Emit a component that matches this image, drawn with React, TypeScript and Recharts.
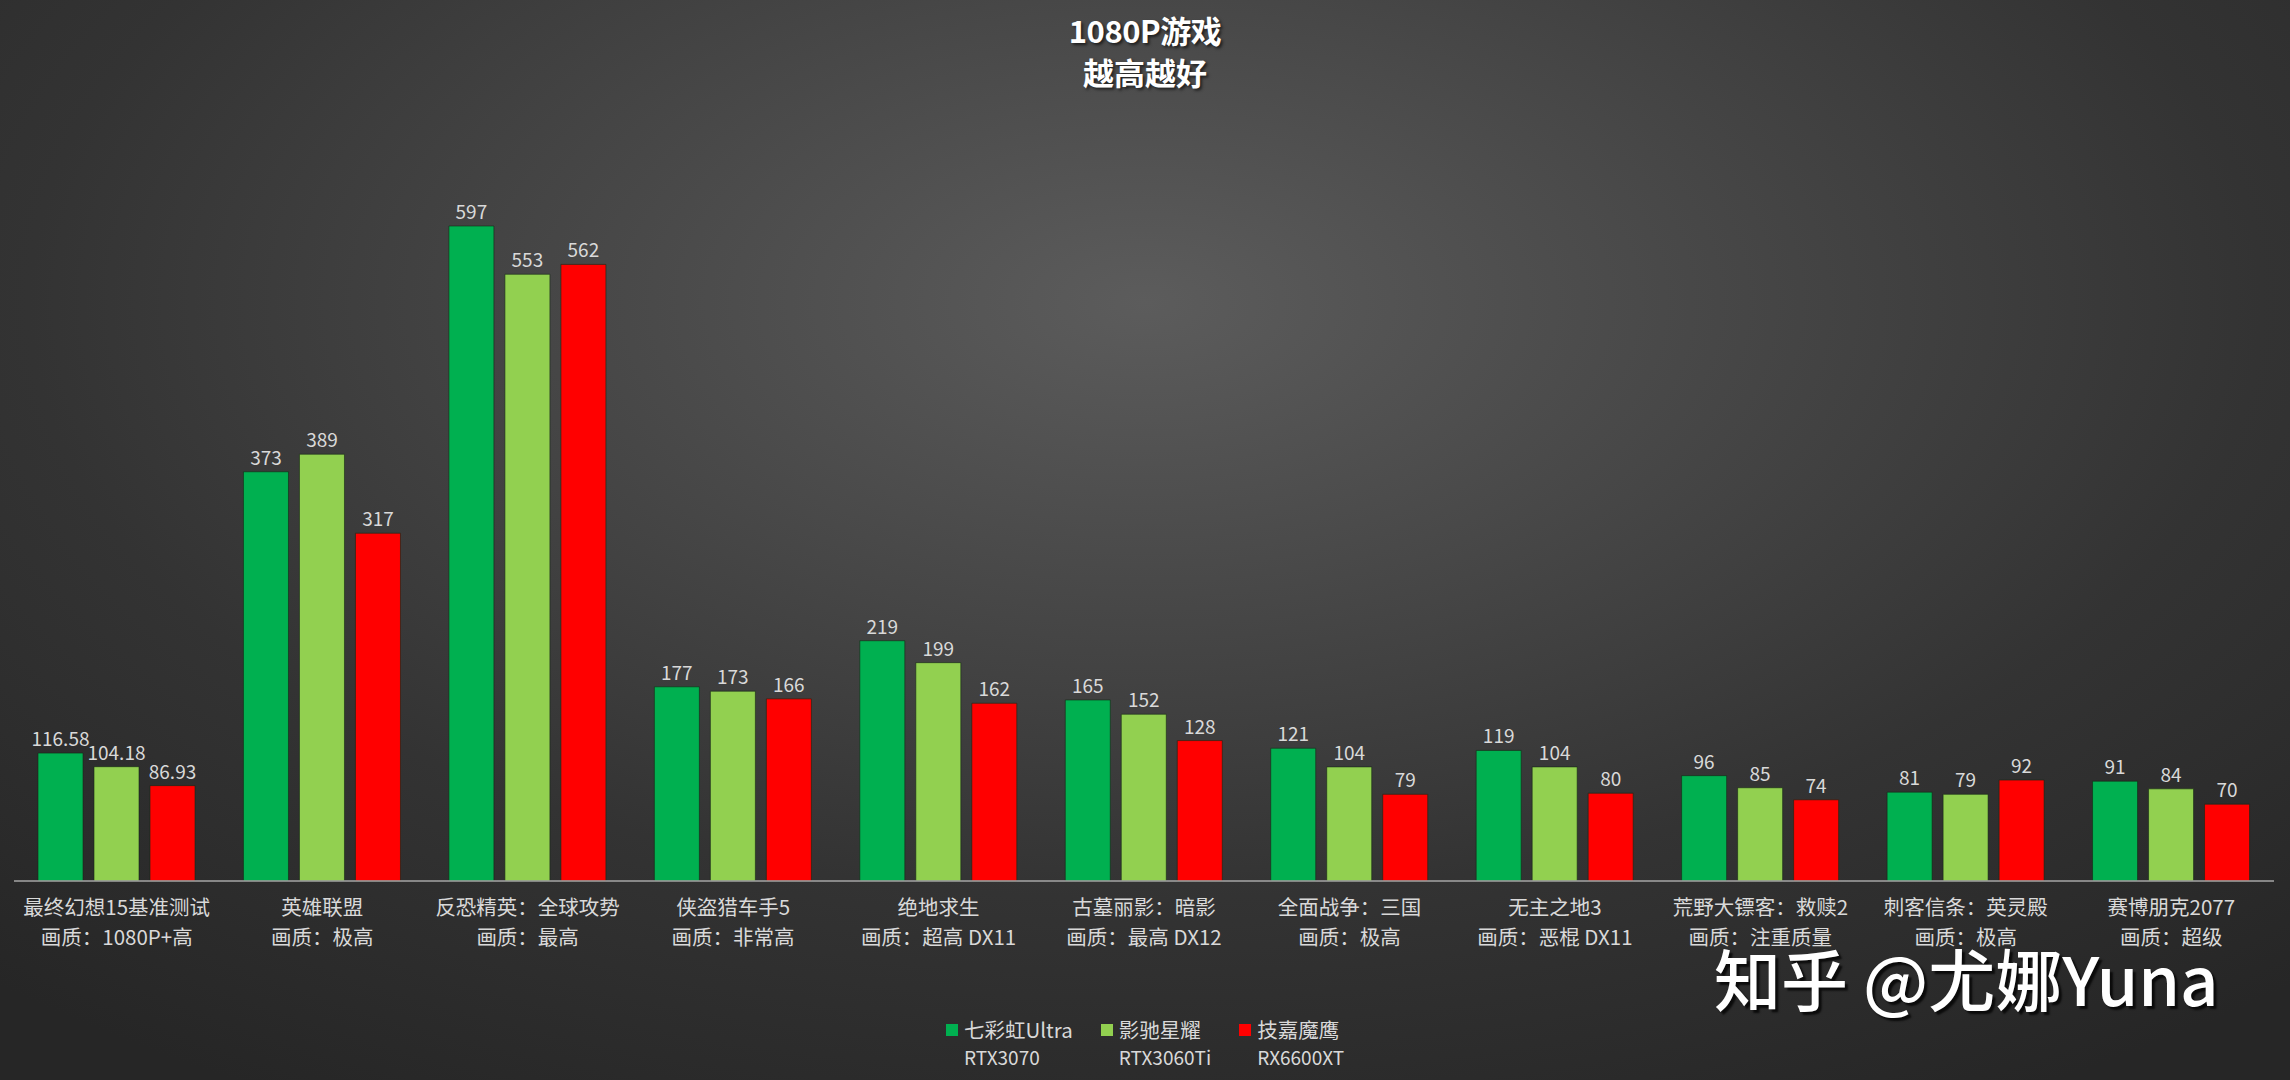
import { BarChart, Bar, XAxis, YAxis, LabelList } from "recharts";

const games = [
  "最终幻想15基准测试",
  "英雄联盟",
  "反恐精英：全球攻势",
  "侠盗猎车手5",
  "绝地求生",
  "古墓丽影：暗影",
  "全面战争：三国",
  "无主之地3",
  "荒野大镖客：救赎2",
  "刺客信条：英灵殿",
  "赛博朋克2077",
];
const settings = [
  "画质：1080P+高",
  "画质：极高",
  "画质：最高",
  "画质：非常高",
  "画质：超高 DX11",
  "画质：最高 DX12",
  "画质：极高",
  "画质：恶棍 DX11",
  "画质：注重质量",
  "画质：极高",
  "画质：超级",
];
const colorful = [116.58, 373, 597, 177, 219, 165, 121, 119, 96, 81, 91];
const galax = [104.18, 389, 553, 173, 199, 152, 104, 104, 85, 79, 84];
const gigabyte = [86.93, 317, 562, 166, 162, 128, 79, 80, 74, 92, 70];

const seriesNames = ["七彩虹Ultra", "影驰星耀", "技嘉魔鹰"];
const seriesModels = ["RTX3070", "RTX3060Ti", "RX6600XT"];
const seriesColors = ["#00b050", "#92d050", "#ff0000"];

const data = games.map((g, i) => ({
  name: g,
  a: colorful[i],
  b: galax[i],
  c: gigabyte[i],
}));

const FONT = '"Noto Sans CJK SC", "Noto Sans", sans-serif';

function GameTick(props: any) {
  const { x, y, payload } = props;
  const idx = payload.index;
  return (
    <g>
      <text x={x} y={y} dy={34} textAnchor="middle" fill="#d9d9d9" fontSize={20.5} fontFamily={FONT}>
        {games[idx]}
      </text>
      <text x={x} y={y} dy={64} textAnchor="middle" fill="#d9d9d9" fontSize={20.5} fontFamily={FONT}>
        {settings[idx]}
      </text>
    </g>
  );
}

export default function App() {
  return (
    <div
      style={{
        position: "relative",
        width: 2290,
        height: 1080,
        overflow: "hidden",
        fontFamily: FONT,
        background:
          "radial-gradient(ellipse 75% 85% at 50% 28%, #5c5c5c 0%, #464646 35%, #333333 65%, #262626 100%)",
      }}
    >
      <style>{"body{margin:0;}"}</style>
      <div
        style={{
          position: "absolute",
          top: 9,
          left: 0,
          width: 2290,
          textAlign: "center",
          color: "#ffffff",
          fontWeight: 700,
          fontSize: 31,
          lineHeight: "42px",
          textShadow: "2px 2px 3px rgba(0,0,0,0.6)",
        }}
      >
        <div style={{ letterSpacing: -0.5 }}>1080P游戏</div>
        <div>越高越好</div>
      </div>
      <BarChart
        width={2290}
        height={1080}
        data={data}
        margin={{ top: 113, right: 16, left: 14, bottom: 0 }}
        barSize={45}
        barGap={11}
        style={{ position: "absolute", top: 0, left: 0 }}
      >
        <XAxis
          dataKey="name"
          interval={0}
          tickLine={false}
          tickSize={0}
          tickMargin={0}
          height={199}
          axisLine={{ stroke: "#a6a6a6", strokeWidth: 1.5 }}
          tick={<GameTick />}
        />
        <YAxis hide domain={[0, 700]} />
        {["a", "b", "c"].map((k, i) => (
          <Bar
            key={k}
            dataKey={k}
            name={seriesNames[i]}
            fill={seriesColors[i]}
            stroke="rgba(20,40,20,0.6)"
            strokeWidth={1}
            isAnimationActive={false}
          >
            <LabelList
              dataKey={k}
              position="top"
              offset={7}
              fill="#d9d9d9"
              fontSize={19}
              fontFamily={FONT}
            />
          </Bar>
        ))}
      </BarChart>
      <div
        style={{
          position: "absolute",
          top: 1013,
          left: 0,
          width: 2290,
          display: "flex",
          justifyContent: "center",
          gap: 28,
          color: "#d9d9d9",
        }}
      >
        {seriesNames.map((n, i) => (
          <div key={n} style={{ display: "flex", alignItems: "flex-start" }}>
            <div
              style={{
                width: 12,
                height: 12,
                background: seriesColors[i],
                marginTop: 11,
                marginRight: 6,
              }}
            />
            <div>
              <div style={{ fontSize: 20.5, lineHeight: "32px" }}>{n}</div>
              <div style={{ fontSize: 19, lineHeight: "24px" }}>{seriesModels[i]}</div>
            </div>
          </div>
        ))}
      </div>
      <div
        style={{
          position: "absolute",
          left: 1714,
          top: 937,
          fontSize: 67,
          fontWeight: 500,
          color: "#ffffff",
          whiteSpace: "nowrap",
          lineHeight: "80px",
          textShadow: "3px 3px 2px rgba(0,0,0,0.75)",
        }}
      >
        知乎 @尤娜Yuna
      </div>
    </div>
  );
}
